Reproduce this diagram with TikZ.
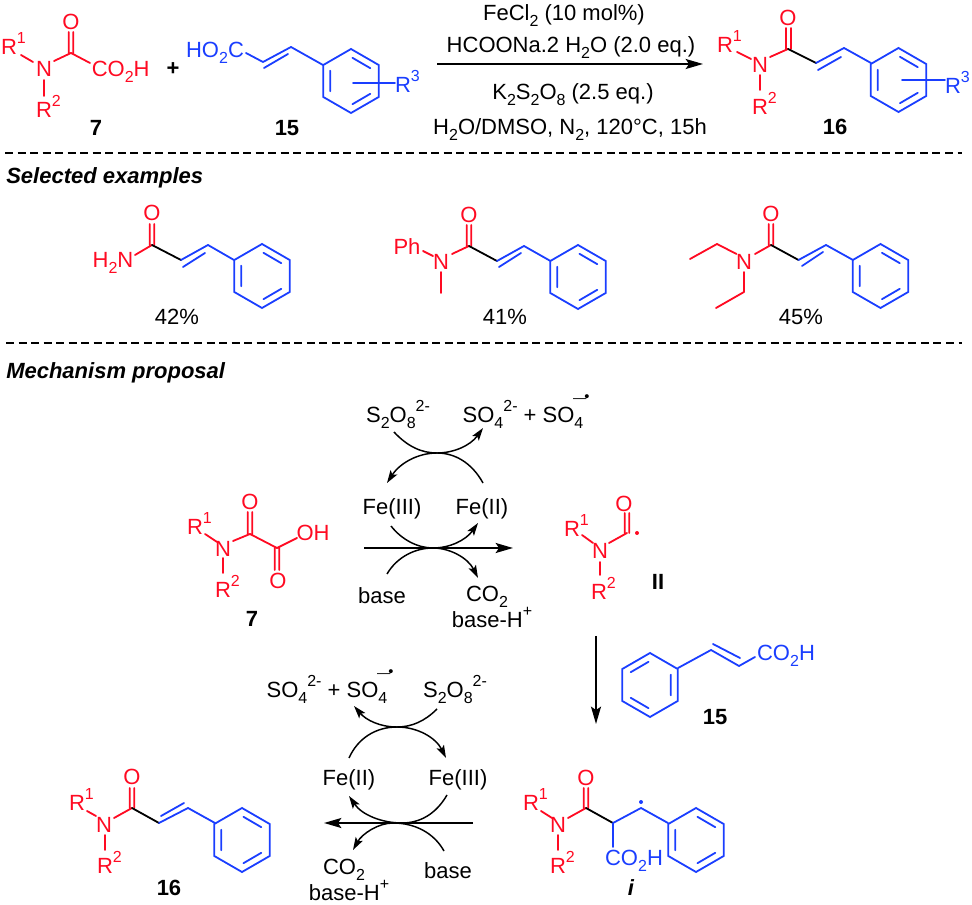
\documentclass[tikz,border=0pt]{standalone}
\usepackage{fontspec}
\setmainfont{Liberation Sans}
\usetikzlibrary{arrows.meta}
\definecolor{cred}{HTML}{FF0A22}
\definecolor{cblue}{HTML}{1A3EFF}
\newcommand{\scr}{\fontsize{12}{13}\selectfont}
\newcommand{\Sb}[1]{\smash{\raisebox{-0.24em}{\scr #1}}}
\newcommand{\Sp}[1]{\smash{\raisebox{0.5em}{\scr #1}}}
\newcommand{\T}[5][black]{\node[lbl,text=#1] (#2) at (#3,#4+7.8) {#5};}
\newcommand{\Rg}[5][cred]{\node[lbl,text=#1] (#2) at (#3,#4+7.8) {R\rlap{\Sp{#5}}};}
\newcommand{\phring}[3][1]{%
  \begin{scope}[shift={(#2,#3)},xscale=#1]
    \draw[bd,cblue,line join=miter] (0,-32)--(27.7,-16)--(27.7,16)--(0,32)--(-27.7,16)--(-27.7,-16)--cycle;
    \draw[bd,cblue] (-20.8,-10.3)--(-20.8,10.3) (1.45,-23.2)--(19.3,-12.8) (1.45,23.2)--(19.3,12.8);
  \end{scope}}
\newcommand{\radmark}{\rlap{\smash{\raisebox{0.92em}{\fontsize{10}{11}\selectfont\kern-1pt—\kern-1.5pt\raisebox{0.05em}{\fontsize{11}{12}\selectfont •}}}}}
\tikzset{
  lbl/.style={anchor=base,inner sep=0pt,font=\fontsize{16.5}{18}\selectfont},
  bd/.style={line width=1.35pt,line cap=round,line join=round},
  flow/.style={line width=1.35pt,-{Stealth[length=13pt,width=7.5pt,inset=2.5pt]}},
  curv/.style={line width=1.1pt,-{Stealth[length=9.5pt,width=6pt,inset=2pt]}},
  curvn/.style={line width=1.1pt},
  sep/.style={line width=1.2pt,dash pattern=on 6pt off 3.4pt},
}
\begin{document}
\begin{tikzpicture}[x=0.75pt,y=-0.75pt]
\useasboundingbox (0,0) rectangle (972,905);
% --- top reaction: 7
\Rg{ra}{9}{47}{1}
\T[cred]{na}{44}{69}{N}
\T[cred]{oa}{71}{22}{O}
\node[lbl,text=cred,anchor=base west] (coa) at (91.5,76.8) {CO\Sb{2}H};
\Rg{rb}{44}{110}{2}
\draw[bd,cred] (21,55)--(33,62) (44,80)--(44,96) (54,61)--(71,53)--(90,63)
  (68.7,53)--(68.7,32) (73.3,53)--(73.3,32);
\T{c7}{96}{128}{\bfseries 7}
\T{plus}{173}{68}{\bfseries +}
% 15
\T[cblue]{hoc}{215}{50}{HO\Sb{2}C}
\draw[bd,cblue] (246,53)--(263,62)--(291,47)--(323,65) (264,68)--(288,54) (353,83)--(395,83);
\phring{351}{81}
\Rg[cblue]{rc}{403}{85}{3}
\T{c15}{287}{128}{\bfseries 15}
% conditions
\coordinate (ar1s) at (437,64);
\coordinate (ar1e) at (703,64);
\draw[flow] (ar1s)--(ar1e);
\T{t1}{564}{13}{FeCl\Sb{2} (10 mol\%)}
\T{t2}{571}{45}{HCOONa.2 H\Sb{2}O (2.0 eq.)}
\T{t3}{573}{92}{K\Sb{2}S\Sb{2}O\Sb{8} (2.5 eq.)}
\T{t4}{570}{127}{H\Sb{2}O/DMSO, N\Sb{2}, 120°C, 15h}
% 16
\Rg{rd}{725}{45}{1}
\T[cred]{nd}{760}{65}{N}
\T[cred]{od}{788}{18}{O}
\Rg{re}{760}{107}{2}
\draw[bd,cred] (737,52)--(751,59) (760,75)--(760,90) (770,57)--(788,49) (786,49)--(786,28) (791,49)--(791,28);
\draw[bd] (788,49)--(816,63);
\draw[bd,cblue] (816,63)--(844,48)--(871,63) (818,70)--(841,57) (902,80)--(945,80);
\phring{898.5}{80}
\Rg[cblue]{rf}{953}{86}{3}
\T{c16}{835}{127}{\bfseries 16}
% separators
\coordinate (s1a) at (5,153); \coordinate (s1b) at (962,153);
\draw[sep] (s1a)--(s1b);
\coordinate (s2a) at (6,343); \coordinate (s2b) at (962,343);
\draw[sep] (s2a)--(s2b);
\node[lbl,anchor=base west] (h1) at (6,184) {\bfseries\itshape Selected examples};
\node[lbl,anchor=base west] (h2) at (6,379) {\bfseries\itshape Mechanism proposal};
% --- example 1
\T[cred]{e1o}{152}{213}{O}
\T[cred]{e1n}{113}{260}{H\Sb{2}N}
\draw[bd,cred] (135,255)--(152,245) (149.7,245)--(149.7,224) (154.3,245)--(154.3,224);
\draw[bd] (152,245)--(181,260);
\draw[bd,cblue] (181,260)--(208,245)--(234,260) (183,267)--(205,253);
\phring{262}{276}
\T{e1y}{177}{317}{42\%}
% --- example 2
\T[cred]{e2o}{469}{215}{O}
\T[cred]{e2p}{407}{247}{Ph}
\T[cred]{e2n}{441}{262}{N}
\draw[bd,cred] (423,251)--(433,256) (441,272)--(441,293) (452,254)--(469,246) (466.7,246)--(466.7,225) (471.3,246)--(471.3,225);
\draw[bd] (469,246)--(497,261);
\draw[bd,cblue] (497,261)--(524,246)--(550.5,261) (499,267)--(521,253);
\phring{578}{277}
\T{e2y}{505}{317}{41\%}
% --- example 3
\T[cred]{e3o}{771}{214}{O}
\T[cred]{e3n}{744}{262}{N}
\draw[bd,cred] (690,259)--(717,244)--(736.5,254) (744,272)--(744,292)--(716,308) (755,254)--(771,245) (768.7,245)--(768.7,224) (773.3,245)--(773.3,224);
\draw[bd] (771,245)--(798.5,260);
\draw[bd,cblue] (798.5,260)--(826,245)--(853,260) (802,266)--(823,252);
\phring{880.5}{276}
\T{e3y}{801}{317}{45\%}
% --- upper catalytic cycle
\T{u1}{398}{415}{S\Sb{2}O\Sb{8}\Sp{2-}}
\T{u2}{523}{415}{SO\Sb{4}\Sp{2-} + SO\radmark\Sb{4}}
\T{u3}{392}{507}{Fe(III)}
\T{u4}{482}{507}{Fe(II)}
\T{u5}{382}{596}{base}
\T{u6}{487}{594}{CO\Sb{2}}
\T{u7}{492}{620}{base-H\Sp{+}}
\coordinate (ua) at (394,432); \coordinate (ub) at (483,428);
\coordinate (uc) at (483,483); \coordinate (ud) at (387,483);
\coordinate (ue) at (391,526); \coordinate (uf) at (478,523);
\coordinate (ug) at (387,574); \coordinate (uh) at (478,578);
\coordinate (ui) at (364,548); \coordinate (uj) at (513,548);
\draw[curv] (ua) .. controls (408,447) and (422,453) .. (437,453) .. controls (453,453) and (470,446) .. (ub);
\draw[curv] (uc) .. controls (472,463) and (455,453) .. (437,453) .. controls (418,453) and (400,463) .. (ud);
\draw[curv] (ue) .. controls (402,540) and (418,548) .. (433,548) .. controls (450,548) and (466,540) .. (uf);
\draw[curvn] (ug) .. controls (397,557) and (415,548) .. (433,548);
\draw[curv] (433,548) .. controls (450,548) and (468,558) .. (uh);
\draw[flow] (ui)--(uj);
% compound 7 (middle)
\Rg{ma}{195}{527}{1}
\T[cred]{mn}{223}{549}{N}
\T[cred]{mo}{250}{502}{O}
\T[cred]{mh}{313}{533}{OH}
\T[cred]{mp}{278}{581}{O}
\Rg{mb}{223}{590}{2}
\draw[bd,cred] (205,534)--(217,542) (223,558)--(223,573) (233,541)--(250,534)--(277,548)--(297,538)
  (247.7,534)--(247.7,512) (252.3,534)--(252.3,512) (274.7,548)--(274.7,570) (279.3,548)--(279.3,570);
\T{m7}{252}{619}{\bfseries 7}
% radical II
\Rg{ia}{572}{529}{1}
\T[cred]{in}{600}{551}{N}
\T[cred]{io}{624}{504}{O}
\Rg{ib}{599}{592}{2}
\draw[bd,cred] (582,535)--(593,543) (600,562)--(600,575) (609,543)--(627,533) (624.7,533)--(624.7,513) (629.3,533)--(629.3,513);
\fill[cred] (637,533) circle (2);
\T{iii}{658}{582}{\bfseries II}
\coordinate (v1) at (596,636); \coordinate (v2) at (596,724);
\draw[flow] (v1)--(v2);
% 15 lower
\phring[-1]{650}{685}
\draw[bd,cblue] (678,668)--(711,650)--(739,666)--(755,657) (713,644)--(740,658);
\T[cblue]{lc}{786}{653}{CO\Sb{2}H}
\T{l15}{715}{717}{\bfseries 15}
% intermediate i
\Rg{ja}{531}{803}{1}
\T[cred]{jn}{558}{825}{N}
\T[cred]{jo}{586}{778}{O}
\Rg{jb}{558}{866}{2}
\draw[bd,cred] (541,811)--(552,818) (558,835)--(558,850) (568,818)--(586,808) (583.7,808)--(583.7,788) (588.3,808)--(588.3,788);
\draw[bd] (586,808)--(613,823);
\draw[bd,cblue] (613,847)--(613,823)--(641,808)--(668,823);
\phring{696}{840}
\fill[cblue] (641,802) circle (2);
\T[cblue]{jc}{634}{858}{CO\Sb{2}H}
\T{ji}{631}{888}{\bfseries\itshape i}
% lower catalytic cycle
\T{w1}{327}{690}{SO\Sb{4}\Sp{2-} + SO\radmark\Sb{4}}
\T{w2}{455}{690}{S\Sb{2}O\Sb{8}\Sp{2-}}
\T{w3}{349}{778}{Fe(II)}
\T{w4}{458}{778}{Fe(III)}
\T{w5}{344}{867}{CO\Sb{2}}
\T{w6}{349}{892.5}{base-H\Sp{+}}
\T{w7}{448}{871}{base}
\coordinate (wa) at (437,709); \coordinate (wb) at (354,706);
\coordinate (wc) at (349,758); \coordinate (wd) at (446,758);
\coordinate (we) at (447,795); \coordinate (wf) at (349,796);
\coordinate (wg) at (444,851); \coordinate (wh) at (353,850);
\coordinate (wi) at (473,823); \coordinate (wj) at (324,823);
\draw[curv] (wa) .. controls (425,721) and (412,727) .. (397,727) .. controls (380,727) and (366,720) .. (wb);
\draw[curv] (wc) .. controls (358,738) and (376,727) .. (397,727) .. controls (418,727) and (436,738) .. (wd);
\draw[curv] (we) .. controls (436,814) and (420,823) .. (402,823) .. controls (382,823) and (362,815) .. (wf);
\draw[curvn] (wg) .. controls (434,833) and (415,823) .. (393,823);
\draw[curv] (393,823) .. controls (378,823) and (362,834) .. (wh);
\draw[flow] (wi)--(wj);
% compound 16 lower
\Rg{ka}{77}{803}{1}
\T[cred]{kn}{104}{825}{N}
\T[cred]{ko}{132}{777}{O}
\Rg{kb}{105}{866}{2}
\draw[bd,cred] (87,811)--(96,816) (105,835)--(105,850) (114,818)--(132,808) (129.7,808)--(129.7,788) (134.3,808)--(134.3,788);
\draw[bd] (132,808)--(159,823);
\draw[bd,cblue] (159,823)--(188,808)--(215,823) (161,816)--(184,803);
\phring{242}{840}
\T{k16}{169}{888}{\bfseries 16}
\end{tikzpicture}
\end{document}
